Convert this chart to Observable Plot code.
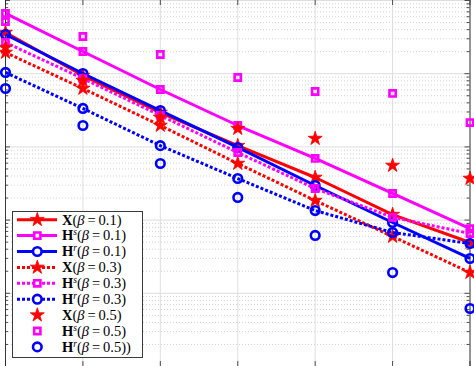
<!DOCTYPE html>
<html><head><meta charset="utf-8">
<script src="https://cdn.jsdelivr.net/npm/d3@7"></script>
<script src="https://cdn.jsdelivr.net/npm/@observablehq/plot@0.6"></script>
<style>
html,body{margin:0;padding:0;background:#fff;}
#wrap{position:relative;width:474px;height:366px;overflow:hidden;}
#wrap svg{display:block;}
#legend{position:absolute;left:0;top:0;}
</style></head><body><div id="wrap"></div>
<script>
// x values (SNR, dB)
const snr = [0, 5, 10, 15, 20, 25, 30];
// series values (error rate)
const X_b01  = [0.0366, 0.00944, 0.00295, 0.00104, 3.82e-4, 1.19e-4, 4.94e-5];
const Hs_b01 = [0.0665, 0.0201, 0.00608, 0.00196, 6.95e-4, 2.31e-4, 7.67e-5];
const Hr_b01 = [0.0343, 0.01007, 0.00314, 9.82e-4, 2.97e-4, 9.27e-5, 2.99e-5];
const X_b03  = [0.0195, 0.00628, 0.00196, 5.93e-4, 1.85e-4, 5.97e-5, 1.92e-5];
const Hs_b03 = [0.0267, 0.00859, 0.00269, 8.38e-4, 2.70e-4, 1.09e-4, 6.56e-5];
const Hr_b03 = [0.0104, 0.00335, 0.00104, 3.70e-4, 1.35e-4, 6.77e-5, 4.79e-5];
const X_b05  = [0.0228, 0.00807, 0.00252, 0.00178, 0.00130, 5.57e-4, 3.70e-4];
const Hs_b05 = [0.0516, 0.0322, 0.0183, 0.00887, 0.00571, 0.00537, 0.00215];
const Hr_b05 = [0.00628, 0.00196, 5.93e-4, 2.04e-4, 6.17e-5, 1.92e-5, 6.20e-6];
// legend labels: [bold letter, superscript, beta]
const labels = [
  ["X", "", "0.1"], ["H", "s", "0.1"], ["H", "r", "0.1"],
  ["X", "", "0.3"], ["H", "s", "0.3"], ["H", "r", "0.3"],
  ["X", "", "0.5"], ["H", "s", "0.5"], ["H", "r", "0.5)"]
];
const yDomain = [1e-6, 1e-1];
const majorTicks = [1e-6, 1e-5, 1e-4, 1e-3, 1e-2, 1e-1];

const RED = "#ff0000", MAG = "#ff00ff", BLUE = "#0000ff";
const styles = [
  {v: X_b01,  color: RED,  line: "solid", sym: "star"},
  {v: Hs_b01, color: MAG,  line: "solid", sym: "square"},
  {v: Hr_b01, color: BLUE, line: "solid", sym: "circle"},
  {v: X_b03,  color: RED,  line: "dot",   sym: "star"},
  {v: Hs_b03, color: MAG,  line: "dot",   sym: "square"},
  {v: Hr_b03, color: BLUE, line: "dot",   sym: "circle"},
  {v: X_b05,  color: RED,  line: "none",  sym: "star"},
  {v: Hs_b05, color: MAG,  line: "none",  sym: "square"},
  {v: Hr_b05, color: BLUE, line: "none",  sym: "circle"}
];
const symR = {star: 4.4, square: 3.5, circle: 4.3};
const DASH = "3,2";
const LW = 3;

const minorTicks = [];
for (let e = -6; e < -1; e++) for (let m = 2; m <= 9; m++) minorTicks.push(m * Math.pow(10, e));

const W = 474, H = 366, mL = 5, mR = 4.5;
const PW = W - mL - mR;

const marks = [
  Plot.ruleY(minorTicks, {y: d => d, stroke: "#c8c8c8", strokeWidth: 0.8, strokeDasharray: "1,2"}),
  Plot.ruleY(majorTicks, {y: d => d, stroke: "#dadada", strokeWidth: 0.9}),
  Plot.ruleX(snr, {x: d => d, stroke: "#dadada", strokeWidth: 0.9}),
  // inward ticks
  Plot.ruleY(majorTicks, {y: d => d, insetRight: PW - 5, stroke: "#262626", strokeWidth: 0.8}),
  Plot.ruleY(majorTicks, {y: d => d, insetLeft: PW - 5, stroke: "#262626", strokeWidth: 0.8}),
  Plot.ruleY(minorTicks, {y: d => d, insetRight: PW - 3, stroke: "#262626", strokeWidth: 0.8}),
  Plot.ruleY(minorTicks, {y: d => d, insetLeft: PW - 3, stroke: "#262626", strokeWidth: 0.8}),
  Plot.ruleX(snr, {x: d => d, insetBottom: H - 5, stroke: "#262626", strokeWidth: 0.8}),
  Plot.ruleX(snr, {x: d => d, insetTop: H - 5, stroke: "#262626", strokeWidth: 0.8}),
  Plot.ruleX([snr[0], snr[snr.length - 1]], {x: d => d, stroke: "#262626", strokeWidth: 0.9})
];

styles.forEach(s => {
  const rows = snr.map((x, i) => ({x, y: s.v[i]}));
  if (s.line !== "none") {
    marks.push(Plot.line(rows, {x: "x", y: "y", stroke: s.color, strokeWidth: LW,
      strokeLinecap: "butt",
      strokeDasharray: s.line === "dot" ? DASH : null}));
  }
  if (s.sym === "star") {
    marks.push(Plot.dot(rows, {x: "x", y: "y", symbol: "star", r: symR.star, fill: s.color, stroke: s.color, strokeWidth: 0.8}));
  } else {
    marks.push(Plot.dot(rows, {x: "x", y: "y", symbol: s.sym, r: symR[s.sym], fill: "none", stroke: s.color, strokeWidth: 2.6}));
  }
});

const chart = Plot.plot({
  width: W, height: H,
  marginLeft: mL, marginRight: mR, marginTop: 0, marginBottom: 0,
  style: {background: "#fff", overflow: "visible"},
  x: {domain: [snr[0], snr[snr.length - 1]], axis: null},
  y: {type: "log", domain: yDomain, axis: null},
  marks
});
document.getElementById("wrap").appendChild(chart);

// Legend overlay
const lg = d3.select("#wrap").append("svg").attr("id", "legend").attr("width", W).attr("height", H);
const bx = 12, by = 211, bw = 130, bh = 146;
lg.append("rect").attr("x", bx + 0.5).attr("y", by + 0.5).attr("width", bw).attr("height", bh)
  .attr("fill", "#fff").attr("stroke", "#3a3a3a").attr("stroke-width", 1);
const row0 = 219.7, rowStep = 15.9;
styles.forEach((s, i) => {
  const cy = row0 + i * rowStep;
  const g = lg.append("g");
  if (s.line !== "none") {
    g.append("line").attr("x1", 17).attr("x2", 57).attr("y1", cy).attr("y2", cy)
      .attr("stroke", s.color).attr("stroke-width", LW)
      .attr("stroke-dasharray", s.line === "dot" ? DASH : null);
  }
  const type = s.sym === "star" ? d3.symbolStar : s.sym === "square" ? d3.symbolSquare : d3.symbolCircle;
  const r = symR[s.sym];
  const path = d3.symbol(type, Math.PI * r * r)();
  const p = g.append("path").attr("d", path).attr("transform", `translate(37.3,${cy})`);
  if (s.sym === "star") p.attr("fill", s.color).attr("stroke", s.color).attr("stroke-width", 0.8);
  else p.attr("fill", s.line === "none" ? "none" : "#fff").attr("stroke", s.color).attr("stroke-width", 2.6);
  const [L, sup, b] = labels[i];
  const t = g.append("text").attr("x", 62).attr("y", cy + 4.8)
    .attr("font-family", "'Liberation Serif', 'DejaVu Serif', serif").attr("font-size", 14.5).attr("fill", "#000");
  t.append("tspan").attr("font-weight", "bold").text(L);
  if (sup) t.append("tspan").attr("font-style", "italic").attr("font-size", 9.5).attr("dy", -5).text(sup);
  t.append("tspan").attr("dy", sup ? 5 : 0).text("(");
  t.append("tspan").attr("font-style", "italic").text("β");
  t.append("tspan").text("\u2009=\u2009" + b + ")");
});
</script>
</body></html>
